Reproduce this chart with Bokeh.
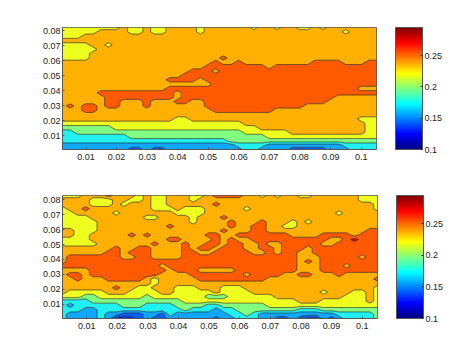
import numpy as np
from bokeh.embed import file_html
from bokeh.resources import INLINE
from bokeh.layouts import column
from bokeh.plotting import figure
from bokeh.models import Range1d, ColorBar, LinearColorMapper, FixedTicker, Label

x_ticks = [0.01, 0.02, 0.03, 0.04, 0.05, 0.06, 0.07, 0.08, 0.09, 0.1]
y_ticks = [0.01, 0.02, 0.03, 0.04, 0.05, 0.06, 0.07, 0.08]
bar_ticks = [0.1, 0.15, 0.2, 0.25]
levels = [0.10, 0.12, 0.14, 0.16, 0.18, 0.20, 0.22, 0.24, 0.26, 0.28, 0.30]
fills = ["#0000c0", "#0030e0", "#0060ff", "#10a8ff", "#20f0f0", "#80ff80", "#eeff20", "#ffb000", "#ff5a00", "#d81010"]
band_value = {"1": 13, "2": 15, "3": 17, "4": 19, "5": 21, "6": 23, "7": 25, "8": 27, "9": 29}

# each digit is the contour band at one grid node (top row first)
bands_a = [
 "66666666" "7" "66" "7" "66" "7777" "6" "777777" "6" "77" "6" "77" "66" "7" "6" "7777777",
 "66666" "7777" "66" "7" "66" "7777" "6" "777777777777777777" "6" "7777",
 "666" "777777777777777777777777777777777777777",
 "777777777777777777777777777777777777777777",
 "6666" "77" "6" "77777777777777777777777777777777777",
 "66666" "7777777777777777777777777777777777777",
 "6666" "77777777777777777777777777777777777777",
 "6666" "77777777777777777" "8" "77777777777777777777",
 "77777777777777777777" "8" "77" "8" "777777777" "8888" "777" "88",
 "7777777777777777777" "88888888" "7" "88888888888888",
 "77777777777777777" "888" "7" "888888888888888888888",
 "7777777777777777" "88888888888888888888888888",
 "77777777777777" "8888" "7" "88888888888888888888888",
 "77777777777777777777" "8888888888888888888888",
 "77777777777777" "8888888888888888888888888" "777",
 "77777" "8888888888" "7" "88888888888888888888888888",
 "777777" "888888888" "7" "8" "8888888888888888888" "777777",
 "777777" "88" "777" "8" "777" "88" "77" "8888888888888888" "7777777",
 "7" "8" "7" "88" "7" "88" "777" "8" "7777777" "8888888888888" "7777777777",
 "777" "88" "777777777777777" "88888888" "77777777777777",
 "777777777777777777777777777777777777777777",
 "777777777777777" "66" "7777777777777777777777" "666",
 "666666666666666666666666" "7777777777777777" "66",
 "5555555" "6666666666666666666" "77777777777777" "66",
 "44" "5555555555555555555555" "666666" "7777777777" "66",
 "444444444" "555555555555555555" "666666666666666",
 "4444444444444444444444" "55555555555555555555",
 "33333333333333333333333" "4444" "3333333333" "44444",
 "333333333" "22" "3" "22" "333333333" "3" "44" "3333" "222" "22" "3" "33" "4444",
]

bands_b = [
 "666777877767667776678" "888776767766777777666",
 "777766677667667776777" "777777777777777777666",
 "777766676777667777778" "777777777777777777776",
 "677877777777666766677" "777677777777777777776",
 "667777767777777666677" "777777777777777677777",
 "666677777776677776777" "877777777777777777777",
 "666667777777777776777" "7" "8" "777" "8" "777" "6" "7" "6" "777777777",
 "666667777777778777777" "78" "77" "88" "77" "66" "77777777777",
 "776667777777777777777" "8" "777" "88" "7777777777777" "88",
 "776677777878777777788" "778888888777788887888",
 "666677777777778877778" "7" "8" "77" "8888888888" "77" "8" "9" "888",
 "666667777777877787788" "788778778888877888888",
 "777777787788777787887" "888778878887" "888888888",
 "777777887888777788778" "888877878877" "888888888",
 "788888887788777788888" "8888888888" "777" "88888" "7" "88",
 "788888888888888888888" "8888888888" "7" "8" "7" "88888888",
 "8888888888888" "7" "8888888" "8888888888" "777" "888" "7" "8888",
 "7777" "8888888888" "7" "888" "777" "77" "88888888" "777" "88888888",
 "7887" "888888888" "7777" "8888" "888788887788777877777",
 "778777888887677777888" "888888" "77777777777777" "8",
 "777777777777" "6" "77777777" "777777777777777777777",
 "7777777" "8" "77" "66" "777" "666" "777" "666" "77777777777777777" "6",
 "766666777666677666667" "6666" "777777777" "6" "777" "66" "7" "6",
 "666556666665666666655" "5" "666666" "777777777" "666" "7" "6",
 "4444" "555555555555" "66666" "6666666666" "777" "666666" "7" "6",
 "434444445554444555544" "555555" "666666666666666",
 "44433" "44444444444" "5" "444" "3" "44" "55555555" "444" "55555555",
 "433334332223324333333" "34454" "3333333333" "44444" "5",
 "433334311123223333332" "334443322321132344445",
]


def jet(t):
    r = np.clip(min(4 * t - 1.5, -4 * t + 4.5), 0, 1)
    g = np.clip(min(4 * t - 0.5, -4 * t + 3.5), 0, 1)
    b = np.clip(min(4 * t + 0.5, -4 * t + 2.5), 0, 1)
    return "#%02x%02x%02x" % (int(r * 255), int(g * 255), int(b * 255))


LOW, HIGH = 0.1, 0.295
palette = [jet(i / 255) for i in range(256)]
FONT = "Liberation Sans"
TXT = "#222222"


def panel(rows, ylim, xlim, left, top, frame_h, name, name_y):
    p = figure(output_backend="svg", toolbar_location=None,
               frame_width=xlim[2], frame_height=frame_h,
               x_range=Range1d(xlim[0], xlim[1]), y_range=Range1d(ylim[0], ylim[1]),
               min_border_left=left, min_border_right=85, min_border_top=top, min_border_bottom=20)
    zz = np.array([[band_value[c] for c in row] for row in rows], dtype=float)[::-1] / 100
    xs = np.linspace(xlim[0], xlim[1], zz.shape[1])
    ys = np.linspace(ylim[0], ylim[1], zz.shape[0])
    p.contour(xs, ys, zz, levels=levels, fill_color=fills, line_color="#1a1a1a", line_width=0.6)
    p.grid.visible = False
    p.outline_line_color = "#555555"
    p.xaxis.ticker = FixedTicker(ticks=x_ticks)
    p.yaxis.ticker = FixedTicker(ticks=y_ticks)
    p.xaxis.major_label_overrides = {t: ("%g" % t) for t in x_ticks}
    p.yaxis.major_label_overrides = {t: ("%g" % t) for t in y_ticks}
    for ax in (p.xaxis, p.yaxis):
        ax.major_label_text_font = FONT
        ax.major_label_text_font_size = "9px"
        ax.major_label_text_color = TXT
        ax.major_tick_in = 2
        ax.major_tick_out = 0
        ax.minor_tick_line_color = None
        ax.axis_line_color = "#555555"
        ax.major_tick_line_color = "#555555"
    p.xaxis.major_label_standoff = 4
    p.yaxis.major_label_standoff = 2
    mapper = LinearColorMapper(palette=palette, low=LOW, high=HIGH)
    bar = ColorBar(color_mapper=mapper, width=27, height=frame_h, padding=0, margin=0,
                   location=(xlim[2] + 19, 0),
                   ticker=FixedTicker(ticks=bar_ticks),
                   major_label_overrides={t: ("%g" % t) for t in bar_ticks},
                   major_label_text_font=FONT, major_label_text_font_size="9px",
                   major_label_text_color=TXT, major_tick_line_color="#333333",
                   major_tick_in=2, minor_tick_line_color=None,
                   bar_line_color="#555555", label_standoff=2)
    p.add_layout(bar)
    p.add_layout(Label(x=-43, y=name_y, x_units="screen", y_units="screen", text=name,
                       text_font=FONT, text_font_size="9px", text_color=TXT,
                       text_baseline="middle"))
    return p


p1 = panel(bands_a, (0.0007, 0.0822), (0.0023, 0.105, 314), 61, 27, 122, "a)", 73)
p2 = panel(bands_b, (0.0003, 0.083), (0.0021, 0.105, 315), 62, 26, 123, "b)", 78)
page = column(p1, p2, spacing=0)
open("out.html", "w").write(file_html(page, INLINE))
